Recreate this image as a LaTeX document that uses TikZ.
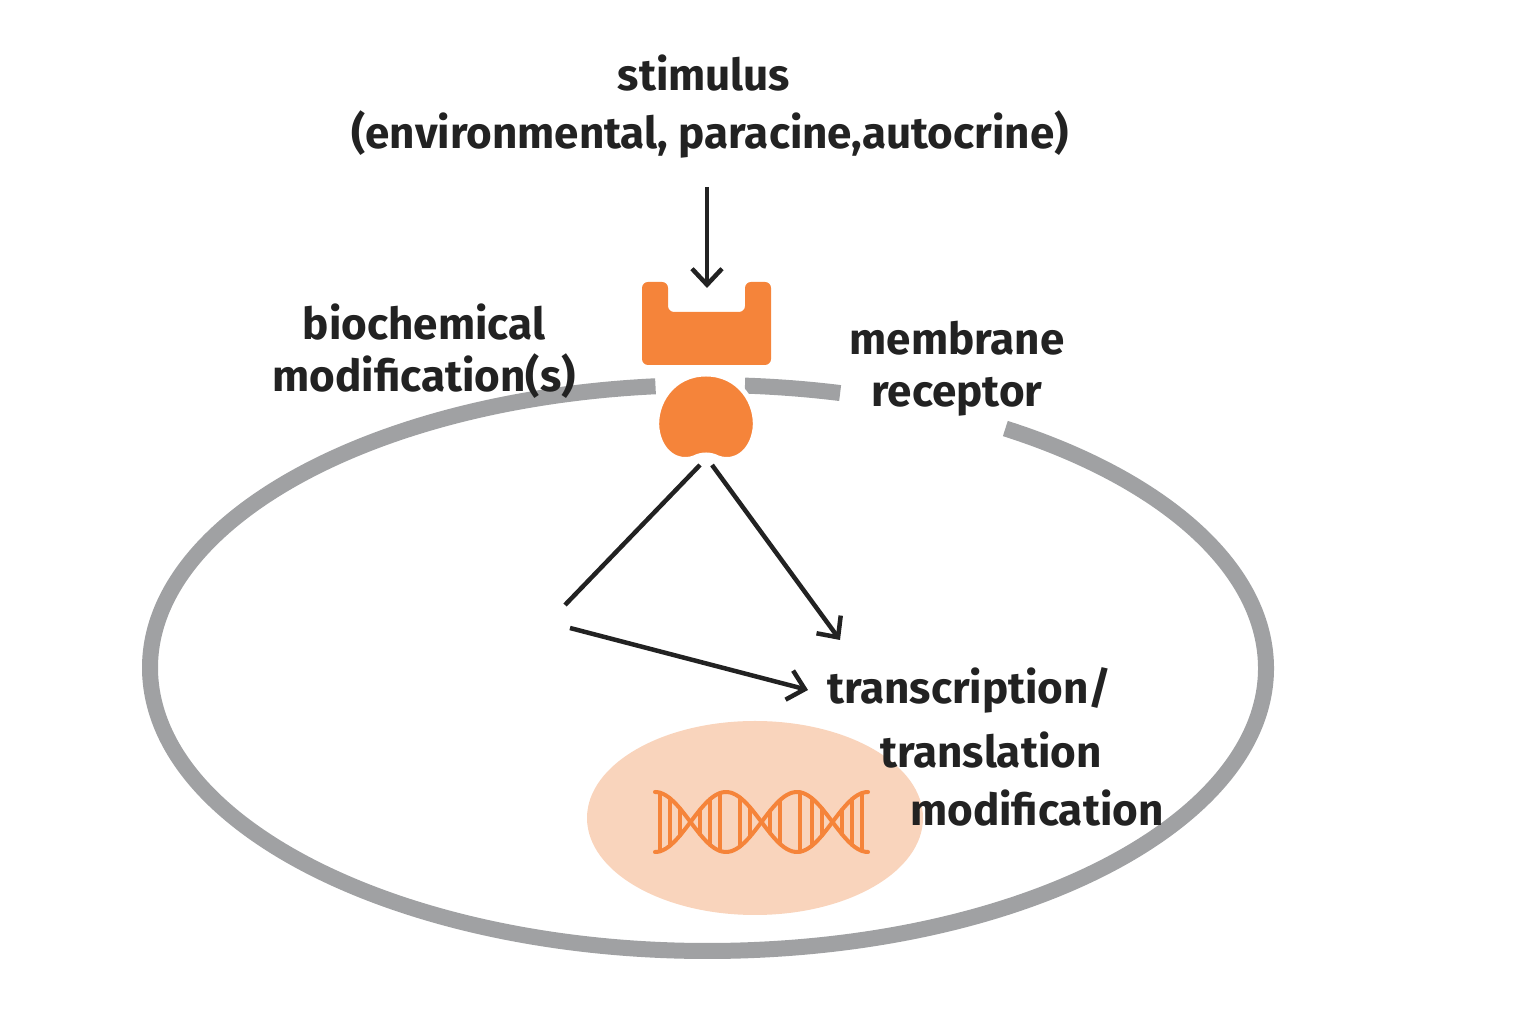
\documentclass[tikz,border=0pt]{standalone}
\usepackage{fontspec}
\setmainfont{Fira Sans}
\usetikzlibrary{arrows.meta,shapes.geometric}
\definecolor{org}{HTML}{F5843A}
\definecolor{peach}{HTML}{F9D4BC}
\definecolor{mem}{HTML}{A0A1A3}
\definecolor{ink}{HTML}{222222}
\tikzset{lbl/.style={font=\fontsize{44}{52}\selectfont\bfseries,text=ink,inner sep=0pt},
arr/.style={draw=ink,line width=4.5pt,-{Straight Barb[length=16pt,width=30pt,line width=4.5pt]}},
lin/.style={draw=ink,line width=4.5pt}}
\begin{document}
\begin{tikzpicture}[x=1pt,y=1pt]
\useasboundingbox (0,0) rectangle (1536,1024);
% membrane
\draw[mem,line width=16pt] (708,356) ++(95.4:558 and 283) arc[start angle=95.4,end angle=417.8,x radius=558,y radius=283];
\draw[mem,line width=16pt] (708,356) ++(86.2:558 and 283) arc[start angle=86.2,end angle=76.3,x radius=558,y radius=283];
% nucleus
\node[ellipse,fill=peach,minimum width=336pt,minimum height=194pt,inner sep=0pt] (nuc) at (755,206) {};
% DNA
\begin{scope}[org,line width=4pt,line cap=round]
\draw[domain=0:213,samples=80] plot ({655+\x},{202+30*cos(2.5352*\x)});
\draw[domain=0:213,samples=80] plot ({655+\x},{202-30*cos(2.5352*\x)});
\foreach \xx in {5,15,25,45,55,65,85,95,115,125,145,157,167,187,197,207}
 \draw ({655+\xx},{202+30*cos(2.5352*\xx)}) -- ({655+\xx},{202-30*cos(2.5352*\xx)});
\end{scope}
% receptor
\fill[org,rounded corners=6pt] (642,659) -- (642,742) -- (668,742) -- (668,712) -- (745,712) -- (745,742) -- (771,742) -- (771,659) -- cycle;
\fill[org,draw=white,line width=5pt] (706,650) .. controls (740,650) and (758,620) .. (755,595) .. controls (752,572) and (735,560) .. (718,566) .. controls (710,570) and (702,570) .. (694,566) .. controls (677,560) and (660,572) .. (657,595) .. controls (654,620) and (672,650) .. (706,650) -- cycle;
% texts
\node[lbl] (stim) at (704,951) {stimulus};
\node[lbl] (stim2) at (710,889) {(environmental, paracine,autocrine)};
\node[lbl,align=center] (memb) at (957,655) {membrane\\receptor};
\node[lbl,align=center] (bio) at (424,673) {biochemical\\modification(s)};
\node[lbl,anchor=west] (tr1) at (827,334) {transcription/};
\node[lbl,anchor=west] (tr2) at (880,274) {translation};
\node[lbl,anchor=west] (tr3) at (910,216) {modification};
% arrows
\coordinate (s1) at (707,837);
\coordinate (s2) at (707,736);
\draw[arr] (s1) -- (s2);
\coordinate (a1) at (700,559);
\coordinate (a2) at (565,419);
\draw[lin] (a1) -- (a2);
\coordinate (b1) at (712,559);
\coordinate (b2) at (840,384);
\draw[arr] (b1) -- (b2);
\coordinate (c1) at (570,396);
\coordinate (c2) at (808,334);
\draw[arr] (c1) -- (c2);
\end{tikzpicture}
\end{document}
